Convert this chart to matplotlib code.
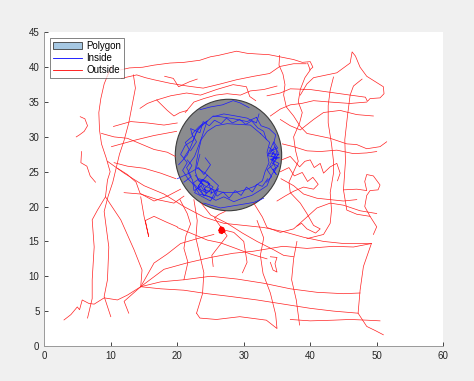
import matplotlib
matplotlib.use("Agg")
import matplotlib.pyplot as plt
from matplotlib.patches import Circle, Patch
from matplotlib.lines import Line2D

# ---------------- data ----------------
circle_center = (27.7, 27.4)
circle_radius = 8.0

x_ticks = [0, 10, 20, 30, 40, 50, 60]
y_ticks = [0, 5, 10, 15, 20, 25, 30, 35, 40, 45]
legend_labels = ["Polygon", "Inside", "Outside"]

# red (outside) trajectory pieces, (x, y)
red_top1 = [(11.4, 39.6), (12.8, 39.9), (14.8, 40.0), (16.5, 40.3), (18.9, 40.6), (21.0, 40.7),
            (23.4, 41.0), (25.0, 41.5), (26.2, 41.7), (28.9, 42.3), (30.5, 42.0), (32.0, 41.9),
            (33.8, 41.8), (35.4, 41.5), (37.5, 41.1), (38.8, 40.7), (40.0, 40.8), (40.4, 40.0),
            (39.9, 39.6)]
red_top2 = [(11.6, 38.4), (13.9, 38.9), (15.2, 38.5), (16.5, 38.2), (18.9, 37.7), (21.5, 37.3),
            (23.9, 37.0), (25.2, 37.3), (26.5, 37.6), (28.9, 38.2), (31.5, 38.7), (33.9, 39.1),
            (35.4, 40.1), (37.5, 40.5), (39.4, 40.5)]
red_top3 = [(14.4, 34.1), (15.5, 34.8), (16.9, 35.3), (19.0, 35.9), (21.4, 36.3), (23.5, 36.0),
            (25.9, 36.8), (28.4, 37.5), (30.4, 37.2), (30.9, 35.8), (31.8, 35.2)]
red_hook = [(18.1, 38.7), (19.4, 38.4), (20.2, 37.2), (21.8, 37.9), (23.0, 38.3)]
red_right_vert = [(35.4, 41.7), (35.3, 40.3), (35.9, 39.0), (36.2, 37.5), (36.0, 36.0), (36.4, 34.3),
                  (37.5, 33.0), (38.5, 31.5), (39.5, 30.5), (41.0, 30.2), (43.0, 29.8), (45.5, 29.0),
                  (47.0, 28.9), (48.5, 28.3), (50.5, 28.6), (51.5, 29.3)]
red_loop_ne = [(38.5, 36.0), (39.5, 37.6), (40.5, 38.5), (42.0, 38.8), (44.0, 39.2), (46.0, 40.6),
               (46.3, 42.2), (46.8, 41.6), (47.5, 40.0), (48.5, 38.7), (50.0, 37.8), (51.0, 37.2),
               (51.1, 36.2), (50.5, 35.6), (49.0, 35.5), (48.6, 35.1), (48.3, 35.7), (46.0, 36.0),
               (43.0, 36.4), (40.0, 36.8), (37.0, 36.9), (35.5, 36.3), (33.5, 35.9)]
red_east1 = [(39.6, 40.6), (40.0, 39.6), (39.2, 38.5), (38.5, 36.8), (38.2, 35.0), (38.8, 33.5),
             (38.4, 32.0), (37.5, 30.0), (37.8, 28.0), (38.2, 26.5), (37.5, 25.0), (36.8, 23.5),
             (37.0, 22.0), (38.5, 20.5), (39.5, 19.0), (40.5, 17.3), (41.5, 16.8), (40.8, 16.2),
             (39.5, 16.8), (38.7, 17.6), (38.0, 17.2)]
red_east2 = [(43.5, 38.6), (43.0, 36.7), (42.7, 34.5), (42.7, 32.0), (43.2, 29.0), (43.5, 26.5),
             (43.5, 24.8), (43.0, 22.0), (43.2, 19.5), (43.0, 17.6), (42.0, 16.0), (39.5, 15.4)]
red_east3 = [(47.8, 38.3), (46.5, 37.3), (46.0, 36.0), (45.6, 33.0), (45.2, 29.6), (45.3, 26.5),
             (45.0, 22.4), (45.5, 19.5), (47.0, 18.9), (49.0, 18.6), (50.0, 17.1), (49.5, 16.0)]
red_bump = [(45.0, 22.4), (47.0, 22.5), (48.5, 22.3), (48.2, 23.6), (48.5, 24.6), (49.5, 24.4),
            (50.5, 23.1), (50.2, 22.4), (49.0, 22.3), (48.5, 21.6), (48.2, 20.0), (49.0, 18.6)]
red_mid_right = [(35.8, 29.0), (37.5, 28.6), (39.5, 28.0), (41.5, 27.9), (44.0, 28.1), (46.5, 27.6),
                 (48.5, 27.7), (50.0, 27.9)]
red_jag = [(35.7, 26.7), (37.0, 27.2), (38.4, 25.7), (39.2, 26.5), (40.0, 26.7), (40.6, 25.6),
           (41.5, 26.2), (42.0, 24.8), (43.0, 25.7), (44.0, 26.2), (44.5, 24.8), (44.1, 23.7)]
red_jag2 = [(35.5, 25.0), (36.8, 25.6), (37.6, 24.4), (38.8, 24.9), (39.6, 23.6), (40.4, 24.2),
            (41.2, 23.2), (40.5, 22.5), (39.0, 22.8), (37.5, 22.2), (36.2, 21.5), (35.0, 20.8)]
red_mid_cross = [(9.5, 26.5), (12.0, 24.8), (15.0, 23.0), (18.0, 21.8), (21.0, 20.0), (24.0, 18.5),
                 (27.0, 17.6), (30.0, 17.3), (33.0, 17.0), (36.0, 16.4), (39.0, 15.6), (42.0, 15.0),
                 (45.0, 14.7), (49.2, 14.7)]
red_left_a = [(9.4, 38.6), (10.1, 40.1), (9.6, 39.0), (9.0, 37.6), (8.5, 35.5), (8.2, 33.5),
              (8.3, 31.0), (8.6, 29.0), (9.3, 27.0), (9.9, 25.0), (9.5, 23.8), (9.2, 21.4),
              (8.0, 19.5), (7.2, 18.1), (7.5, 14.2), (7.2, 9.5), (7.2, 6.8), (6.5, 4.0)]
red_left_b = [(13.4, 38.9), (13.7, 37.0), (13.2, 34.5), (12.7, 32.0), (12.0, 29.5), (11.3, 27.5),
              (10.8, 25.5), (10.3, 23.5), (9.6, 21.5), (9.0, 19.3), (9.7, 14.2), (9.5, 9.5),
              (9.0, 7.1), (10.0, 4.2)]
red_left_c = [(9.2, 21.4), (11.5, 18.1), (13.5, 13.8), (14.7, 10.9), (14.5, 8.5), (12.0, 6.4),
              (12.7, 4.7)]
red_jag_left = [(5.4, 32.9), (6.1, 32.6), (6.5, 31.6), (6.0, 30.8), (5.3, 30.3), (4.8, 30.0)]
red_jag_left2 = [(5.6, 27.9), (5.5, 26.3), (6.4, 25.8), (6.9, 24.4), (7.7, 23.5)]
red_start = [(2.96, 3.73), (4.0, 4.5), (4.96, 5.6), (5.3, 5.2), (5.7, 6.6), (6.7, 6.1), (7.5, 6.0),
             (9.0, 6.9), (11.0, 6.6), (12.5, 7.3), (14.5, 8.5)]
red_fan1 = [(14.5, 8.5), (17.5, 9.2), (21.0, 9.5), (25.0, 10.0), (29.0, 9.6), (33.0, 9.0),
            (37.0, 8.2), (41.0, 7.7), (45.0, 7.5), (47.5, 7.6)]
red_fan2 = [(14.5, 8.5), (17.5, 8.2), (21.0, 8.0), (24.5, 7.5), (28.0, 7.1), (32.0, 6.6),
            (36.0, 6.0), (40.0, 5.4), (43.5, 5.0), (47.2, 4.7)]
red_fan3 = [(14.5, 8.5), (16.5, 11.9), (18.5, 13.2), (20.5, 14.7), (23.0, 15.4), (25.5, 16.0)]
red_fan4 = [(14.5, 8.5), (18.0, 11.0), (21.4, 11.9), (25.0, 12.7), (28.4, 13.3), (31.5, 13.6),
            (35.9, 14.3), (39.5, 14.0), (43.5, 14.3), (46.5, 14.2), (49.2, 14.7)]
red_mid_vert = [(14.5, 21.4), (15.0, 18.6), (15.7, 15.7), (15.2, 18.0), (16.5, 18.6), (18.3, 17.8),
                (20.0, 17.1)]
red_bottom1 = [(22.9, 4.7), (23.4, 4.0), (25.9, 3.8), (29.4, 4.2), (33.4, 3.7), (35.0, 2.5),
               (34.8, 4.5), (34.0, 7.6), (32.9, 10.4), (32.5, 13.0), (33.0, 15.5), (32.0, 18.0)]
red_bottom2 = [(38.4, 3.0), (37.9, 6.6), (37.2, 9.5), (37.5, 12.5), (38.0, 15.0)]
red_bottom3 = [(37.0, 3.8), (40.0, 3.6), (43.5, 3.7), (46.0, 3.8), (48.5, 3.7), (50.5, 3.6)]
red_bottom4 = [(49.2, 14.7), (48.0, 11.4), (47.5, 8.0), (47.2, 4.7), (48.5, 2.8), (49.8, 2.2),
               (51.0, 1.6)]
red_small_loop = [(34.0, 12.8), (35.0, 12.7), (34.7, 11.8), (35.0, 10.6), (34.4, 10.9), (34.0, 12.0)]
red_center_low = [(22.5, 21.0), (23.0, 18.0), (22.8, 15.5), (23.4, 13.0), (24.0, 10.5), (23.8, 7.5),
                  (22.9, 4.7)]
red_center_low2 = [(25.4, 11.4), (25.2, 13.0), (26.5, 14.6), (27.5, 15.8), (26.8, 16.7), (28.5, 16.3),
                   (30.0, 15.0), (30.5, 12.0), (29.8, 10.5)]
red_blob = [(26.5, 16.9), (27.0, 16.5), (26.7, 16.2), (26.3, 16.6), (26.9, 16.9), (27.1, 16.4),
            (26.4, 16.3), (26.6, 17.0)]
red_blob_tail = [(26.6, 17.0), (26.0, 17.8), (25.6, 18.4), (26.3, 18.9), (27.2, 19.3)]
red_left_diag = [(10.1, 28.6), (13.9, 29.6), (16.5, 30.2), (19.9, 30.8)]
red_left_diag2 = [(10.4, 31.5), (13.0, 32.2), (15.5, 32.0), (18.0, 31.7), (20.0, 32.0)]
red_left_diag3 = [(10.5, 26.3), (12.5, 25.8), (15.0, 25.5), (17.5, 24.8), (19.8, 24.0)]
red_left_diag4 = [(12.0, 22.0), (14.5, 21.8), (17.0, 21.0), (19.5, 20.5), (21.0, 21.5)]
red_left_top = [(16.9, 35.3), (18.5, 33.8), (19.5, 33.0), (20.4, 33.5), (21.5, 33.8)]
red_ne_mid = [(35.5, 32.5), (37.0, 31.6), (38.5, 31.0), (40.5, 32.5), (42.0, 33.5), (44.5, 33.8),
              (47.0, 33.2), (49.5, 33.0)]
red_under1 = [(20.4, 21.0), (21.5, 19.0), (22.0, 17.5), (21.3, 15.8), (21.0, 14.0), (21.6, 12.0),
              (21.0, 9.5)]
red_under2 = [(23.6, 20.5), (25.0, 18.8), (27.5, 17.6), (29.8, 16.2), (32.0, 15.0), (34.5, 13.8),
              (36.0, 13.0), (37.5, 12.8)]
red_under3 = [(31.5, 20.5), (32.8, 18.5), (33.5, 17.0), (35.5, 16.3), (37.5, 16.8), (39.5, 18.5),
              (41.0, 19.8), (43.0, 20.5), (45.0, 20.2), (47.5, 19.4), (50.0, 19.0)]
red_under4 = [(20.0, 17.0), (22.5, 16.0), (24.5, 15.2), (26.5, 14.8), (28.8, 14.0), (31.0, 13.2),
              (33.5, 12.5)]
red_circle_sw = [(20.5, 22.5), (18.5, 21.5), (16.5, 20.8), (14.4, 21.9), (13.8, 23.5), (12.5, 24.6),
                 (11.0, 25.5)]
red_rightmid2 = [(35.6, 24.0), (37.5, 23.0), (39.0, 21.8), (41.0, 21.2), (43.0, 21.0), (45.0, 20.8),
                 (47.0, 21.0)]
red_left_mid = [(8.6, 30.5), (10.5, 30.0), (12.5, 29.8), (14.5, 29.0), (16.5, 28.2), (18.5, 27.8),
                (19.7, 27.2)]
red_top_near = [(21.2, 33.5), (22.5, 35.0), (24.0, 35.5), (25.8, 36.0), (27.5, 36.2), (29.5, 36.0),
                (31.0, 36.6), (33.0, 36.8), (35.0, 37.3)]
red_ne_lines = [(34.0, 33.0), (35.5, 34.0), (37.0, 34.6), (38.7, 34.8), (40.5, 35.2), (43.0, 35.0),
                (46.0, 34.8), (48.5, 35.0)]

red_paths = [red_top1, red_top2, red_top3, red_hook, red_right_vert, red_loop_ne, red_east1,
             red_east2, red_east3, red_bump, red_mid_right, red_jag, red_jag2, red_mid_cross,
             red_left_a, red_left_b, red_left_c, red_jag_left, red_jag_left2, red_start,
             red_fan1, red_fan2, red_fan3, red_fan4, red_mid_vert, red_bottom1, red_bottom2,
             red_bottom3, red_bottom4, red_small_loop, red_center_low, red_center_low2,
             red_blob_tail, red_left_diag, red_left_diag2, red_left_diag3, red_left_diag4,
             red_left_top, red_ne_mid, red_under1, red_under2, red_under3, red_under4,
             red_circle_sw, red_rightmid2, red_left_mid, red_top_near, red_ne_lines]

# blue (inside) trajectory pieces
blue_outer = [(31.9, 32.8), (30.5, 32.2), (28.5, 32.6), (26.5, 32.9), (25.4, 33.0), (24.2, 32.0),
              (23.0, 31.0), (22.4, 29.5), (21.2, 28.8), (20.5, 27.5), (21.5, 26.3), (20.8, 25.2),
              (21.6, 24.0), (22.6, 23.0), (23.3, 21.8), (24.6, 21.5), (25.8, 20.9), (27.0, 21.4),
              (28.5, 20.7), (29.8, 21.2), (31.2, 21.6), (32.4, 22.3), (33.5, 23.0), (34.0, 24.2),
              (34.8, 25.5), (34.3, 26.8), (35.0, 27.8), (34.5, 29.0), (34.8, 30.3), (33.8, 31.2),
              (32.6, 31.6), (31.9, 32.8)]
blue_inner = [(32.5, 30.5), (31.0, 31.7), (29.2, 31.8), (27.5, 31.9), (25.8, 31.6), (24.5, 30.8),
              (23.6, 29.6), (23.2, 28.0), (22.9, 26.5), (22.7, 25.0), (23.2, 23.7), (24.3, 22.9),
              (25.5, 22.4), (27.0, 22.0), (28.6, 22.0), (30.2, 22.4), (31.6, 22.9), (32.8, 23.7),
              (33.2, 25.0), (33.8, 26.3), (33.5, 27.8), (33.9, 29.2), (32.5, 30.5)]
blue_right = [(33.8, 28.5), (34.6, 27.9), (34.1, 27.2), (35.0, 26.9), (34.3, 26.2), (35.2, 25.8),
              (34.4, 25.3), (34.9, 24.6), (33.9, 25.9), (34.8, 27.4), (34.0, 28.0), (35.1, 28.4),
              (34.5, 29.3), (33.7, 27.6), (35.3, 27.5), (34.2, 26.6)]
blue_left_low = [(22.7, 24.5), (23.8, 23.2), (23.1, 22.6), (24.4, 22.0), (23.5, 23.8), (24.9, 23.3),
                 (24.0, 22.5), (25.2, 22.0), (24.6, 23.6), (23.3, 24.0), (22.4, 23.4), (23.9, 21.7),
                 (25.5, 21.2), (26.2, 22.6), (25.0, 21.8)]
blue_top = [(23.4, 33.9), (25.0, 34.3), (26.8, 34.6), (28.4, 35.2), (29.4, 34.9), (30.8, 34.2)]
blue_top2 = [(25.4, 32.9), (27.0, 33.3), (28.8, 33.0), (30.5, 32.7), (31.9, 32.0), (32.3, 33.3)]
blue_left = [(20.2, 26.0), (21.5, 27.4), (22.2, 29.0), (22.8, 30.5), (23.7, 31.8)]
blue_bottom = [(24.0, 20.5), (26.5, 19.8), (29.0, 20.2), (31.5, 20.6), (33.0, 21.2)]
blue_chord = [(20.0, 24.0), (21.8, 24.8), (23.2, 25.6), (24.0, 24.6), (25.0, 26.0), (24.2, 27.0)]
blue_jag1 = [(21.0, 27.0), (21.8, 28.2), (21.2, 29.2), (22.3, 30.1), (22.0, 31.2), (23.4, 30.6),
             (23.9, 32.2), (24.8, 31.6), (25.6, 32.4), (26.6, 31.9), (27.4, 32.7), (28.3, 32.0),
             (29.4, 32.5), (30.3, 31.8), (31.2, 32.3), (32.1, 31.3), (33.0, 30.8), (33.4, 29.6)]
blue_jag2 = [(33.6, 24.0), (32.8, 22.9), (32.0, 23.2), (31.3, 22.1), (30.4, 22.8), (29.6, 21.6),
             (28.7, 22.3), (27.8, 21.2), (26.9, 22.1), (26.0, 21.5), (25.2, 22.6), (24.3, 21.9),
             (23.6, 22.9), (22.5, 22.3), (22.3, 23.8), (21.6, 24.9), (22.2, 25.9), (21.5, 26.7)]
blue_jag3 = [(24.5, 24.5), (23.2, 23.0), (24.0, 21.5), (25.4, 22.8), (23.8, 23.9), (22.6, 22.0),
             (25.0, 20.8), (26.2, 23.0), (24.2, 24.8), (22.9, 25.6), (23.4, 27.5)]
blue_jag4 = [(34.6, 25.0), (35.3, 26.2), (34.0, 26.8), (35.4, 27.0), (33.6, 27.3), (34.7, 28.6),
             (35.2, 27.7), (34.4, 26.0), (33.5, 25.3), (34.2, 24.3), (33.4, 23.5)]
blue_jag5 = [(22.0, 28.0), (22.9, 29.3), (22.2, 30.4), (23.3, 31.5), (24.5, 32.3), (23.7, 30.0),
             (22.6, 27.2), (21.4, 25.6), (22.1, 24.3), (21.0, 23.5)]

blue_paths = [blue_outer, blue_inner, blue_right, blue_left_low, blue_top, blue_top2,
              blue_left, blue_bottom, blue_chord, blue_jag1, blue_jag2, blue_jag3, blue_jag4,
              blue_jag5]

# ---------------- drawing ----------------
plt.rcParams['font.family'] = ['Liberation Sans', 'DejaVu Sans']
fig = plt.figure(figsize=(4.74, 3.81), dpi=100, facecolor='#f0f0f0')
ax = fig.add_axes([0.0935, 0.092, 0.8415, 0.823])
ax.set_facecolor('white')

ax.add_patch(Circle(circle_center, circle_radius, facecolor='#8b8c8f', edgecolor='#3c3c3c',
                    lw=0.8, zorder=1))

for p in red_paths:
    xs, ys = zip(*p)
    ax.plot(xs, ys, color='#ff2020', lw=0.5, zorder=2)
bx, by = zip(*red_blob)
ax.plot(bx, by, color='red', lw=1.6, zorder=2)
for p in blue_paths:
    xs, ys = zip(*p)
    ax.plot(xs, ys, color='#1a1aff', lw=0.5, zorder=3)

ax.set_xlim(0, 60)
ax.set_ylim(0, 45)
ax.set_xticks(x_ticks)
ax.set_yticks(y_ticks)
ax.tick_params(direction='in', length=3, width=0.6, colors='#262626', labelsize=7,
               top=False, right=False)
for s in ['top', 'right']:
    ax.spines[s].set_visible(False)
for s in ['left', 'bottom']:
    ax.spines[s].set_color('#999999')
    ax.spines[s].set_linewidth(0.7)

handles = [Patch(facecolor='#a6c8e3', edgecolor='#3c3c3c', lw=0.6),
           Line2D([], [], color='blue', lw=0.6),
           Line2D([], [], color='red', lw=0.6)]
leg = ax.legend(handles, legend_labels, loc='upper left', fontsize=7, frameon=True,
                fancybox=False, edgecolor='#262626', borderpad=0.3, labelspacing=0.2,
                handlelength=3.0, handletextpad=0.4, borderaxespad=0.6)
leg.get_frame().set_linewidth(0.5)

fig.savefig('out.png', dpi=100, facecolor=fig.get_facecolor())
